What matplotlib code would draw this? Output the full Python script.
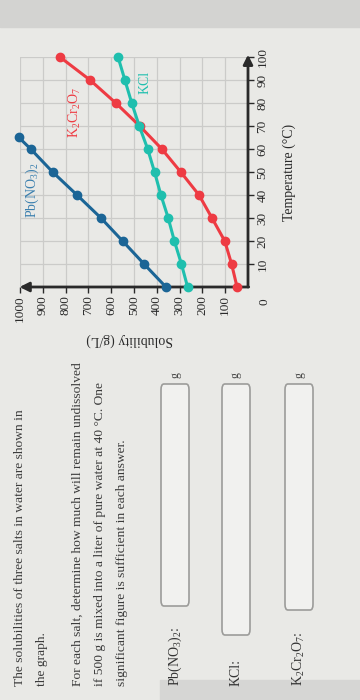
import matplotlib
matplotlib.use("Agg")
import matplotlib.pyplot as plt
from matplotlib.patches import FancyBboxPatch, Rectangle

plt.rcParams['font.family'] = ['Liberation Serif', 'DejaVu Serif']
plt.rcParams['mathtext.fontset'] = 'custom'
plt.rcParams['mathtext.rm'] = 'Liberation Serif'
plt.rcParams['mathtext.it'] = 'Liberation Serif:italic'

# data (solubility in g/L vs temperature in C)
temps = [0, 10, 20, 30, 40, 50, 60, 70, 80, 90, 100]
kcl = [265, 292, 323, 350, 382, 410, 440, 477, 510, 540, 570]
k2cr2o7 = [48, 72, 102, 158, 215, 295, 378, 475, 580, 693, 825]
pb_temps = [0, 10, 20, 30, 40, 50, 60, 65]
pb_no3 = [360, 456, 550, 645, 750, 857, 953, 1005]

sol_ticks = [100, 200, 300, 400, 500, 600, 700, 800, 900, 1000]
temp_ticks = [10, 20, 30, 40, 50, 60, 70, 80, 90, 100]

question = ["The solubilities of three salts in water are shown in",
            "the graph.",
            "For each salt, determine how much will remain undissolved",
            "if 500 g is mixed into a liter of pure water at 40 \u00b0C. One",
            "significant figure is sufficient in each answer."]
answer_labels = [r"Pb(NO$_3$)$_2$:", "KCl:", r"K$_2$Cr$_2$O$_7$:"]

BLUE = "#1b6596"
TEAL = "#1fbfae"
RED = "#ee3b43"
INK = "#2a2a2a"
W, H = 360, 700


def fx(x):
    return x / W


def fy(y):
    return 1 - y / H


fig = plt.figure(figsize=(3.6, 7), dpi=100)
fig.patch.set_facecolor("#e9e9e6")
fig.patches.append(Rectangle((0, fy(27)), 1, 27 / H, transform=fig.transFigure,
                             color="#d3d3d1", zorder=0))
fig.patches.append(Rectangle((fx(160), 0), 1, 20 / H, transform=fig.transFigure,
                             color="#d6d6d4", zorder=0))

# chart is drawn sideways: solubility runs right->left, temperature upward
ax = fig.add_axes([fx(20), fy(287), 228 / W, 230 / H])
ax.set_facecolor("none")
ax.set_xlim(1000, 0)
ax.set_ylim(0, 100)
for sp in ax.spines.values():
    sp.set_visible(False)
ax.set_xticks(sol_ticks)
ax.set_yticks(temp_ticks)
ax.grid(True, color="#cbcbc9", lw=0.9)
ax.xaxis.tick_bottom()
ax.yaxis.tick_right()
ax.tick_params(colors=INK, length=4, width=1, labelsize=9.5, pad=2)
ax.set_xticklabels([str(v) for v in sol_ticks], rotation=90, va="top", ha="center")
ax.set_yticklabels([str(v) for v in temp_ticks], rotation=90, va="center", ha="left")

ax.annotate("", xy=(0, 101), xytext=(0, 0),
            arrowprops=dict(arrowstyle="-|>", color=INK, lw=2, mutation_scale=14,
                            shrinkA=0, shrinkB=0), annotation_clip=False)
ax.annotate("", xy=(1002, 0), xytext=(-3, 0),
            arrowprops=dict(arrowstyle="-|>", color=INK, lw=2, mutation_scale=14,
                            shrinkA=0, shrinkB=0), annotation_clip=False)

ax.plot(k2cr2o7, temps, color=RED, lw=2.2, marker="o", ms=6, clip_on=False, zorder=3)
ax.plot(kcl, temps, color=TEAL, lw=2.2, marker="o", ms=6, clip_on=False, zorder=4)
ax.plot(pb_no3, pb_temps, color=BLUE, lw=2.2, marker="o", ms=6, clip_on=False, zorder=3)

ax.text(947, 42, r"Pb(NO$_3$)$_2$", color="#3b7fae", rotation=90, fontsize=10,
        ha="center", va="center")
ax.text(759, 76, r"K$_2$Cr$_2$O$_7$", color=RED, rotation=90, fontsize=10,
        ha="center", va="center")
ax.text(452, 89, "KCl", color=TEAL, rotation=90, fontsize=10,
        ha="center", va="center")

fig.text(fx(265), fy(302), "0", rotation=90, fontsize=9.5, color=INK,
         ha="center", va="center")
fig.text(fx(289), fy(172), "Temperature (\u00b0C)", rotation=90, fontsize=10,
         color=INK, ha="center", va="center")
fig.text(fx(130), fy(340), "Solubility (g/L)", rotation=180, fontsize=10,
         color=INK, ha="center", va="center")

# question text
for x, line in zip([20, 42, 78, 100, 122], question):
    fig.text(fx(x), fy(686), line, rotation=90, fontsize=9.7, color="#3a3a3a",
             ha="center", va="bottom")

# answer boxes
box_x = [161, 222, 285]
box_end = [606, 635, 610]
for bx, be, lab in zip(box_x, box_end, answer_labels):
    fig.patches.append(FancyBboxPatch((fx(bx), fy(be)), 28 / W, (be - 384) / H,
                                      boxstyle="round,pad=0,rounding_size=0.008",
                                      transform=fig.transFigure, fc="#f1f1ef",
                                      ec="#9c9c9a", lw=1.2))
    fig.text(fx(bx + 14), fy(375), "g", rotation=90, fontsize=8.5, color="#444444",
             ha="center", va="center")
    fig.text(fx(bx + 14), fy(686), lab, rotation=90, fontsize=10, color="#333333",
             ha="center", va="bottom")

fig.savefig("out.png", dpi=100)
